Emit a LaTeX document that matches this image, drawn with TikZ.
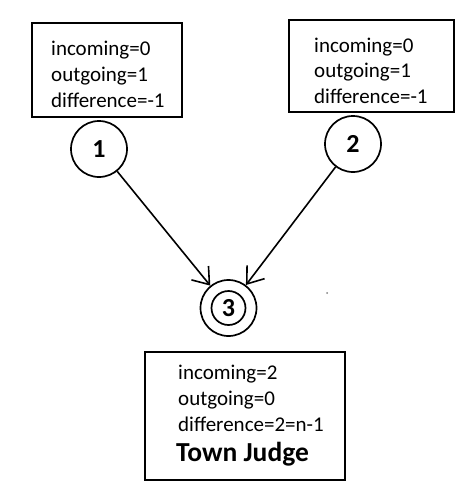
\documentclass[tikz,border=0pt]{standalone}
\usepackage{fontspec}
\setmainfont{Carlito}
\usetikzlibrary{arrows.meta}
\begin{document}
\begin{tikzpicture}[x=1pt,y=-1pt,
  infobox/.style={draw,line width=1.9pt,rectangle,inner sep=0pt},
  infotext/.style={anchor=base west,inner sep=0pt,font=\fontsize{21}{26}\selectfont},
  judgetext/.style={anchor=base west,inner sep=0pt,font=\fontsize{27.5}{32}\selectfont\bfseries},
  vertex/.style={draw,line width=1.7pt,circle,minimum size=56pt,inner sep=0pt,font=\fontsize{26}{30}\selectfont\bfseries},
  arr/.style={line width=1.6pt,-{Straight Barb[length=15pt,width=22pt,line width=1.6pt]}}]
\useasboundingbox (0,0) rectangle (474,503);
% box 1
\node[infobox,minimum width=150pt,minimum height=94pt] (b1) at (107,70) {};
\node[infotext] (t1a) at (51,55.7) {incoming=0};
\node[infotext] (t1b) at (51,81.7) {outgoing=1};
\node[infotext] (t1c) at (51,107) {difference=-1};
% box 2
\node[infobox,minimum width=165pt,minimum height=92pt] (b2) at (371.5,66) {};
\node[infotext] (t2a) at (314,52.3) {incoming=0};
\node[infotext] (t2b) at (314,77.7) {outgoing=1};
\node[infotext] (t2c) at (314,103.3) {difference=-1};
% box 3
\node[infobox,minimum width=200pt,minimum height=128pt] (b3) at (245,416) {};
\node[infotext] (t3a) at (178,379) {incoming=2};
\node[infotext] (t3b) at (178,405) {outgoing=0};
\node[infotext] (t3c) at (178,431) {difference=2=n-1};
\node[judgetext] (t3d) at (176,461) {Town Judge};
% vertices
\node[vertex] (n1) at (99,149) {1};
\node[vertex] (n2) at (353,144) {2};
\node[vertex] (n3) at (228.5,308) {3};
\draw[line width=1.7pt] (n3.center) circle (17);
% edges
\draw[arr] (n1) -- (n3);
\draw[arr] (n2) -- (n3);
% stray dot
\fill[gray] (327,293) circle (1);
\end{tikzpicture}
\end{document}
